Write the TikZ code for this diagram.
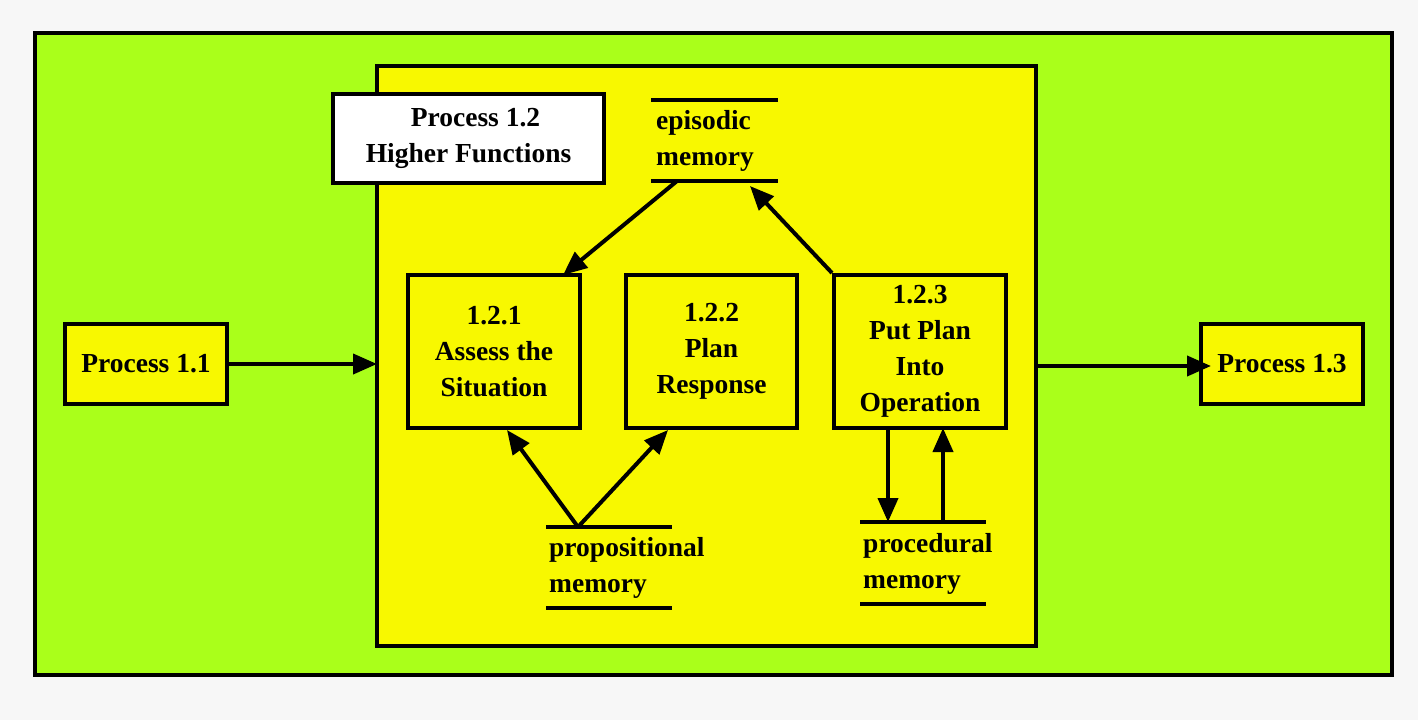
\documentclass[tikz,border=0pt]{standalone}
\usepackage{fontspec}
\setmainfont{Liberation Serif}
\usetikzlibrary{arrows.meta}
\definecolor{bgc}{HTML}{F7F7F7}
\definecolor{grn}{HTML}{AAFF1A}
\definecolor{yel}{HTML}{F8F800}
\begin{document}
\begin{tikzpicture}[x=1pt,y=-1pt,
  lw/.style={line width=4pt},
  box/.style={lw,draw=black,fill=yel},
  arr/.style={lw,-{Triangle[length=24pt,width=20pt]}},
  txt/.style={font=\fontsize{27.5}{36}\selectfont\bfseries,align=center,inner sep=0pt},
  ltxt/.style={font=\fontsize{27.5}{36}\selectfont\bfseries,align=left,inner sep=0pt,anchor=north west}]
\fill[bgc] (0,0) rectangle (1418,720);
\useasboundingbox (0,0) rectangle (1418,720);
\draw[lw,fill=grn] (35,33) rectangle (1392,675);
\draw[box] (377,66) rectangle (1036,646);
\node[lw,draw,fill=white,minimum width=271pt,minimum height=89pt,txt] (p12) at (468.5,138.5) {\hspace*{14pt}Process 1.2\\ Higher Functions};
\node[box,minimum width=162pt,minimum height=80pt,txt] (p11) at (146,364) {Process 1.1};
\node[box,minimum width=162pt,minimum height=80pt,txt] (p13) at (1282,364) {Process 1.3};
\node[box,minimum width=172pt,minimum height=153pt,txt] (a) at (494,351.5) {1.2.1\\Assess the\\Situation};
\node[box,minimum width=171pt,minimum height=153pt,txt] (b) at (711.5,351.5) {1.2.2\\Plan\\Response};
\node[box,minimum width=172pt,minimum height=153pt,txt] (c) at (920,351.5) {1.2.3\\Put Plan\\Into\\Operation};
% data stores
\draw[lw] (651,100) -- (778,100); \draw[lw] (651,181) -- (778,181);
\node[ltxt] (ep) at (656,110) {episodic\\memory};
\draw[lw] (546,527) -- (672,527); \draw[lw] (546,608) -- (672,608);
\node[ltxt] (pr) at (549,537) {propositional\\memory};
\draw[lw] (860,522) -- (986,522); \draw[lw] (860,604) -- (986,604);
\node[ltxt] (pc) at (863,533) {procedural\\memory};
\coordinate (i1) at (377,364); \coordinate (i2) at (1036,366);
\coordinate (e1) at (677,181); \coordinate (e2) at (750,186);
\coordinate (m) at (578,527);
\coordinate (pd) at (888,522); \coordinate (pu) at (943,522);
\draw[arr] (p11.east) -- (i1);
\draw[arr] (i2) -- ([xshift=12pt]p13.west|-i2);
\draw[arr] (e1) -- (563,275);
\draw[arr] (c.north west) -- (e2);
\draw[arr] (m) -- (507,430);
\draw[arr] (m) -- (668,430);
\draw[arr] (888,428) -- (pd);
\draw[arr] (pu) -- (943,428);
\end{tikzpicture}
\end{document}
